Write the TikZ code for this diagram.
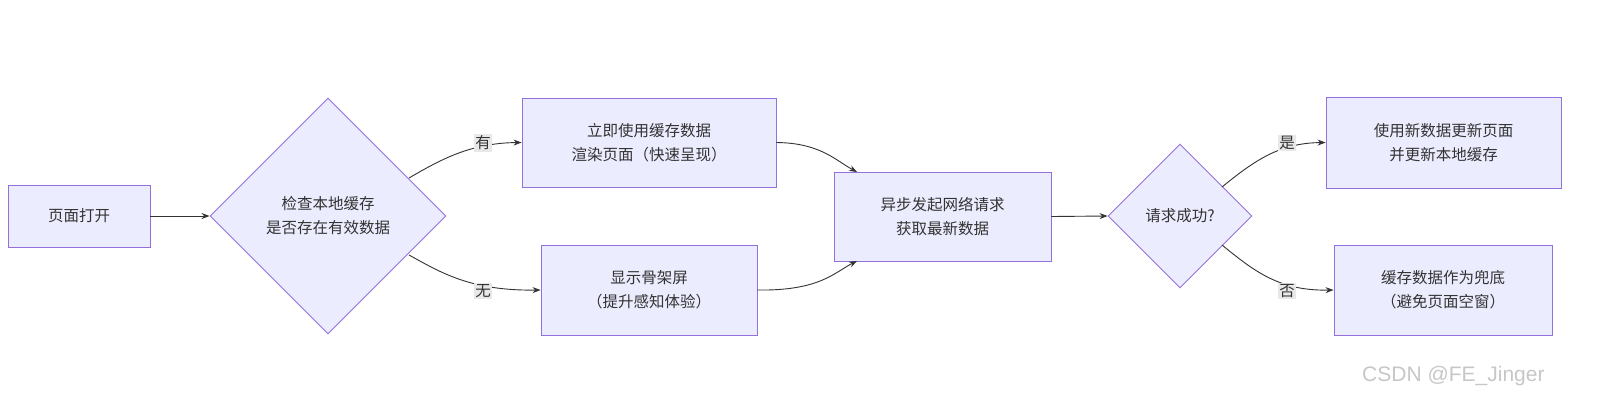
\documentclass[tikz,border=0pt]{standalone}
\usepackage{fontspec}
\newfontfamily\cjk{Noto Sans CJK SC}
\usetikzlibrary{shapes.geometric,arrows.meta}
\definecolor{nf}{HTML}{ECECFF}
\definecolor{nd}{HTML}{9370DB}
\definecolor{ln}{HTML}{333333}
\begin{document}
\begin{tikzpicture}[x=1pt,y=-1pt,
  box/.style={draw=nd,fill=nf,line width=0.9pt,inner sep=0pt,font=\cjk\fontsize{15.5}{24}\selectfont,text=ln,align=center},
  dia/.style={draw=nd,fill=nf,line width=0.9pt,diamond,inner sep=0pt,font=\cjk\fontsize{15.5}{24}\selectfont,text=ln,align=center},
  lab/.style={fill=black!9,inner sep=1.5pt,font=\cjk\fontsize{15.5}{18}\selectfont,text=ln},
  ar/.style={draw=ln,line width=0.9pt,-{Stealth[length=8pt,width=6pt]}}]
\useasboundingbox (0,0) rectangle (1613,402);
\fill[white] (0,0) rectangle (1613,402);
\node[box,minimum width=142pt,minimum height=62pt] (a) at (79,216) {页面打开};
\node[dia,minimum width=236pt,minimum height=236pt] (b) at (328,216) {检查本地缓存\\是否存在有效数据};
\node[box,minimum width=254pt,minimum height=89pt] (c) at (649,142.5) {立即使用缓存数据\\渲染页面（快速呈现）};
\node[box,minimum width=216pt,minimum height=90pt] (d) at (649,290) {显示骨架屏\\（提升感知体验）};
\node[box,minimum width=217pt,minimum height=89pt] (e) at (942.5,216.5) {异步发起网络请求\\获取最新数据};
\node[dia,minimum width=144pt,minimum height=144pt] (f) at (1180,216) {请求成功?};
\node[box,minimum width=235pt,minimum height=91pt] (g) at (1443.5,142.5) {使用新数据更新页面\\并更新本地缓存};
\node[box,minimum width=218pt,minimum height=90pt] (h) at (1443,290) {缓存数据作为兜底\\（避免页面空窗）};
\coordinate (b1) at (409,178);
\coordinate (b2) at (409,255);
\coordinate (f1) at (1222,187);
\coordinate (f2) at (1222,245);
\draw[ar] (a.east) -- (b.west);
\draw[ar] (b1) .. controls (440,160) and (470,143) .. (c.west);
\draw[ar] (b2) .. controls (440,272) and (470,291) .. (d.west);
\draw[ar] (c.east) .. controls (820,143) and (835,160) .. (857,172);
\draw[ar] (d.east) .. controls (820,291) and (835,272) .. (857,261);
\draw[ar] (e.east) -- (f.west);
\draw[ar] (f1) .. controls (1255,160) and (1280,143) .. (g.west);
\draw[ar] (f2) .. controls (1255,272) and (1280,291) .. (h.west);
\node[lab] (l1) at (483,143) {有};
\node[lab] (l2) at (483,291) {无};
\node[lab] (l3) at (1287,143) {是};
\node[lab] (l4) at (1287,291) {否};
\node[anchor=west,font=\fontspec{Liberation Sans}\fontsize{21}{24}\selectfont,text=black!22,inner sep=0pt] (w) at (1362,376) {CSDN @FE\_Jinger};
\end{tikzpicture}
\end{document}
